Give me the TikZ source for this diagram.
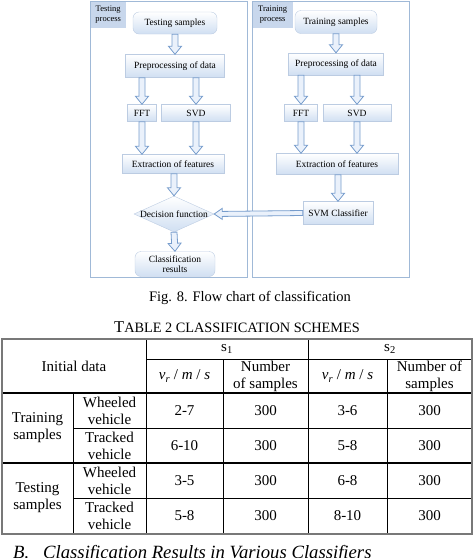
\documentclass[tikz,border=0pt]{standalone}
\usepackage{fontspec}
\setmainfont{Liberation Serif}
\usetikzlibrary{
    positioning,
    calc,
    shapes.geometric
}
\definecolor{PanelLine}{RGB}{160,185,215}
\definecolor{TagFill}{RGB}{200,215,236}
\definecolor{BoxLine}{RGB}{188,204,226}
\definecolor{BoxShade}{RGB}{208,223,242}
\definecolor{ArrowLine}{RGB}{118,156,204}
\definecolor{ArrowFill}{RGB}{234,241,251}
\definecolor{FrameGray}{RGB}{120,120,120}

% hollow block arrow: from, to, half shaft, half head, head length
\newcommand{\blockarrow}[5]{%
    \coordinate (ab) at ($(#2)!#5!(#1)$);
    \filldraw[draw=ArrowLine, fill=ArrowFill, line width=0.8pt, line join=miter]
        ($(#1)!#3!90:(#2)$) -- ($(ab)!#3!-90:(#1)$) -- ($(ab)!#4!-90:(#1)$) -- (#2)
        -- ($(ab)!#4!90:(#1)$) -- ($(ab)!#3!90:(#1)$) -- ($(#1)!#3!-90:(#2)$) -- cycle;
}

\begin{document}
\begin{tikzpicture}[
    x=1pt, y=-1pt,
    box/.style={draw=BoxLine, top color=white, bottom color=BoxShade, inner sep=0pt,
        font=\fontsize{9.5}{11}\selectfont, align=center},
    procbox/.style={box},
    endbox/.style={box, rounded corners=6pt},
    decbox/.style={box, diamond, minimum width=80pt, minimum height=36pt},
    tag/.style={fill=TagFill, inner sep=0pt, align=center, anchor=north west,
        minimum height=26pt, font=\fontsize{8.5}{9.5}\selectfont},
    cell/.style={font=\fontsize{15}{17}\selectfont, align=center, inner sep=0pt},
    rule/.style={line width=0.7pt},
]
    \clip (0,0) rectangle (474,558);

    % Panels
    \draw[PanelLine, line width=0.8pt] (90,1) rectangle (247,277);
    \draw[PanelLine, line width=0.8pt] (252,1) rectangle (409,277);
    \node[tag, minimum width=35pt] (testtag) at (90.5,1.5) {Testing\\process};
    \node[tag, minimum width=40pt] (traintag) at (252.5,1.5) {Training\\process};

    % Testing process
    \node[endbox, minimum width=84pt, minimum height=22pt] (ts) at (175,23) {Testing samples};
    \node[procbox, minimum width=99pt, minimum height=23pt] (pre1) at (175,66) {Preprocessing of data};
    \node[procbox, minimum width=29pt, minimum height=17pt] (fft1) at (142,113) {FFT};
    \node[procbox, minimum width=69pt, minimum height=17pt] (svd1) at (196,113) {SVD};
    \node[procbox, minimum width=102pt, minimum height=19pt] (ext1) at (173,164) {Extraction of features};
    \node[decbox] (dec) at (174,214) {\makebox[0pt]{Decision function}};
    \node[endbox, minimum width=80pt, minimum height=25pt] (res) at (175,264) {Classification\\[-1pt]results};

    % Training process
    \node[endbox, minimum width=82pt, minimum height=23pt] (trs) at (336,22) {Training samples};
    \node[procbox, minimum width=95pt, minimum height=22pt] (pre2) at (336,64) {Preprocessing of data};
    \node[procbox, minimum width=33pt, minimum height=17pt] (fft2) at (301,113) {FFT};
    \node[procbox, minimum width=68pt, minimum height=17pt] (svd2) at (357,113) {SVD};
    \node[procbox, minimum width=122pt, minimum height=21pt] (ext2) at (337,164) {Extraction of features};
    \node[procbox, minimum width=70pt, minimum height=23pt] (svm) at (338,213) {SVM Classifier};

    % Block arrows
    \foreach \a/\b in {ts.south/pre1.north, fft1 |- pre1.south/fft1.north, svd1 |- pre1.south/svd1.north,
        fft1.south/fft1 |- ext1.north, svd1.south/svd1 |- ext1.north, dec |- ext1.south/dec.north,
        dec.south/res.north, trs.south/pre2.north, fft2 |- pre2.south/fft2.north,
        svd2 |- pre2.south/svd2.north, fft2.south/fft2 |- ext2.north, svd2.south/svd2 |- ext2.north,
        svm |- ext2.south/svm.north}
        \blockarrow{\a}{\b}{3pt}{6.5pt}{8pt};
    \blockarrow{svm.west}{dec.east}{2.5pt}{5.5pt}{8pt};

    % Captions
    \node[font=\fontsize{14.5}{16}\selectfont] (cap) at (250,298) {Fig. 8. Flow chart of classification};
    \node[font=\fontsize{14.3}{16}\selectfont] (title) at (237,327) {{\fontsize{16.5}{18}\selectfont T}ABLE 2 CLASSIFICATION SCHEMES};

    % Table rules
    \draw[rule] (146,359) -- (472,359);
    \draw[rule, line width=1.1pt] (2,393) -- (472,393);
    \draw[rule] (73,428) -- (472,428);
    \draw[rule, line width=1.4pt] (2,463) -- (472,463);
    \draw[rule] (73,498) -- (472,498);
    \foreach \x/\ya in {73/393, 146/339, 223/359, 308/339, 387/359}
        \draw[rule] (\x,\ya) -- (\x,534);
    \draw[FrameGray, line width=1.6pt] (2,339) rectangle (472,534);

    % Table header
    \node[cell] (init) at (74,366) {Initial data};
    \node[cell] (sa) at (227,349) {s\textsubscript{1}};
    \node[cell] (sb) at (390,349) {s\textsubscript{2}};
    \node[cell] (vra) at (184.5,376) {\textit{v}\textsubscript{\textit{r}} / \textit{m} / \textit{s}};
    \node[cell] (numa) at (265.5,376) {Number\\of samples};
    \node[cell] (vrb) at (347.5,376) {\textit{v}\textsubscript{\textit{r}} / \textit{m} / \textit{s}};
    \node[cell] (numb) at (429.5,376) {Number of\\samples};

    % Table body
    \node[cell] (trn) at (37.5,428) {Training\\samples};
    \node[cell] (tst) at (37.5,498) {Testing\\samples};
    \foreach \n/\ya/\kind/\va/\vb in {1/410.5/Wheeled/2-7/3-6, 2/445.5/Tracked/6-10/5-8,
        3/480.5/Wheeled/3-5/6-8, 4/516/Tracked/5-8/8-10} {
        \node[cell] (kind\n) at (109.5,\ya) {\kind\\vehicle};
        \node[cell] (va\n) at (184.5,\ya) {\va};
        \node[cell] (na\n) at (265.5,\ya) {300};
        \node[cell] (vb\n) at (347.5,\ya) {\vb};
        \node[cell] (nb\n) at (429.5,\ya) {300};
    }

    % Next section heading (cut by the page edge)
    \node[anchor=base west, inner sep=0pt, font=\fontsize{18.7}{20}\selectfont\itshape] (sec) at (13,558)
        {\makebox[30pt][l]{B.}Classification Results in Various Classifiers};
\end{tikzpicture}
\end{document}
